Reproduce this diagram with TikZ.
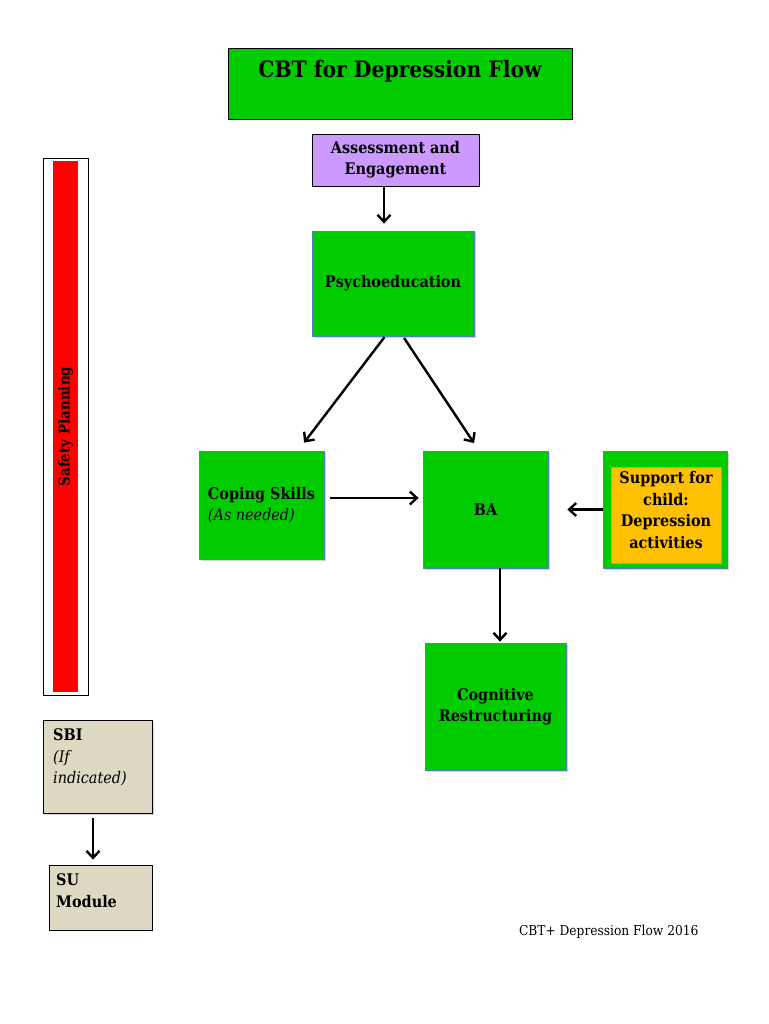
\documentclass[tikz,border=0pt]{standalone}
\usepackage{fontspec}
\setmainfont{DejaVu Serif Condensed}
\usetikzlibrary{arrows.meta,calc,shadows}
\definecolor{cbtgreen}{RGB}{0,204,0}
\definecolor{cbtpurple}{RGB}{204,153,255}
\definecolor{cbtorange}{RGB}{255,192,0}
\definecolor{cbttan}{RGB}{221,217,195}
\definecolor{cbtblue}{RGB}{79,129,189}
\tikzset{
  box/.style={rectangle, inner sep=0pt, font=\fontsize{16}{21.5}\selectfont\bfseries, align=center},
  greenbox/.style={box, fill=cbtgreen, draw=cbtblue, line width=0.8pt,
     drop shadow={shadow xshift=1.5pt, shadow yshift=-1.5pt, opacity=0.35}},
  tanbox/.style={box, fill=cbttan, draw=black, line width=0.8pt, align=left},
  flowarrow/.style={line width=2.4pt, -{Straight Barb[length=7pt,width=13pt,line width=2.4pt]}}
}
\begin{document}
\begin{tikzpicture}[x=1pt,y=-1pt]
\useasboundingbox (0,0) rectangle (768,1024);
\fill[white] (0,0) rectangle (768,1024);

% title
\node[box, fill=cbtgreen, draw=black, line width=0.9pt, minimum width=344pt, minimum height=71pt,
      font=\fontsize{22.6}{29}\selectfont\bfseries] (title) at (400,83.5) {CBT for Depression Flow\\ \mbox{}};

% assessment
\node[box, fill=cbtpurple, draw=black, line width=0.9pt, minimum width=167pt, minimum height=52pt] (assess) at (395.5,160) {Assessment and\\Engagement\\[-17pt]\mbox{}};

% psychoeducation
\node[greenbox, minimum width=162pt, minimum height=105pt] (psycho) at (393,283.5) {Psychoeducation};

% coping skills
\node[greenbox, minimum width=125pt, minimum height=108pt, align=left] (coping) at (261.5,505) {Coping Skills\\{\mdseries\itshape (As needed)}};

% BA
\node[greenbox, minimum width=125pt, minimum height=117pt] (ba) at (485.5,509.5) {BA};

% support
\node[greenbox, minimum width=124pt, minimum height=117pt] (support) at (665,509.5) {};
\node[box, fill=cbtorange, draw=cbtorange!85!black, line width=0.5pt, minimum width=110pt, minimum height=96pt] (supportin) at (666,515) {Support for\\child:\\Depression\\activities\\[-11pt]\mbox{}};

% cognitive restructuring
\node[greenbox, minimum width=141pt, minimum height=127pt] (cog) at (495.5,706.5) {Cognitive\\Restructuring};

% safety planning
\node[rectangle, fill=white, draw=black, line width=0.8pt, minimum width=45pt, minimum height=537pt] (safety) at (65.5,426.5) {};
\node[rectangle, fill=red, minimum width=25pt, minimum height=531pt, inner sep=0pt] (safetyin) at (65.5,426.5) {};
\node[box, rotate=90, font=\fontsize{15}{18}\selectfont\bfseries] (safetytext) at (65.5,426.5) {Safety Planning};

% SBI
\node[tanbox, minimum width=109pt, minimum height=93pt,
      drop shadow={shadow xshift=1.5pt, shadow yshift=-1.5pt, opacity=0.3}] (sbi) at (97.5,766.5) {};
\node[box, anchor=north west, align=left] (sbitext) at (53,728.5) {SBI\\{\mdseries\itshape (If}\\{\mdseries\itshape indicated)}};

% SU Module
\node[tanbox, minimum width=103pt, minimum height=65pt] (su) at (100.5,897.5) {};
\node[box, anchor=north west, align=left] (sutext) at (56,873.5) {SU\\Module};

% footer
\node[font=\fontsize{13.6}{16}\selectfont, anchor=east] (footer) at (702,932) {CBT+ Depression Flow 2016};

% arrows
\draw[flowarrow, shorten <=1pt, shorten >=7pt] ($(assess.south)+(-11.5,0)$) -- ($(psycho.north)+(-9,0)$);
\draw[flowarrow, shorten <=1pt, shorten >=10pt] ($(psycho.south)+(-8,0)$) -- ($(coping.north)+(36.5,0)$);
\draw[flowarrow, shorten <=2pt, shorten >=9pt] ($(psycho.south)+(10,0)$) -- ($(ba.north)+(-6.5,0)$);
\draw[flowarrow, shorten <=6pt, shorten >=4pt] ($(coping.east)+(0,-7)$) -- ($(ba.west)+(0,-11.5)$);
\draw[flowarrow, shorten >=19pt] (support.west) -- (ba.east);
\draw[flowarrow, shorten >=1pt] ($(ba.south)+(14.5,0)$) -- ($(cog.north)+(4.5,0)$);
\draw[flowarrow, shorten <=5pt, shorten >=5pt] ($(sbi.south)+(-4.5,0)$) -- ($(su.north)+(-7.5,0)$);
\end{tikzpicture}
\end{document}
